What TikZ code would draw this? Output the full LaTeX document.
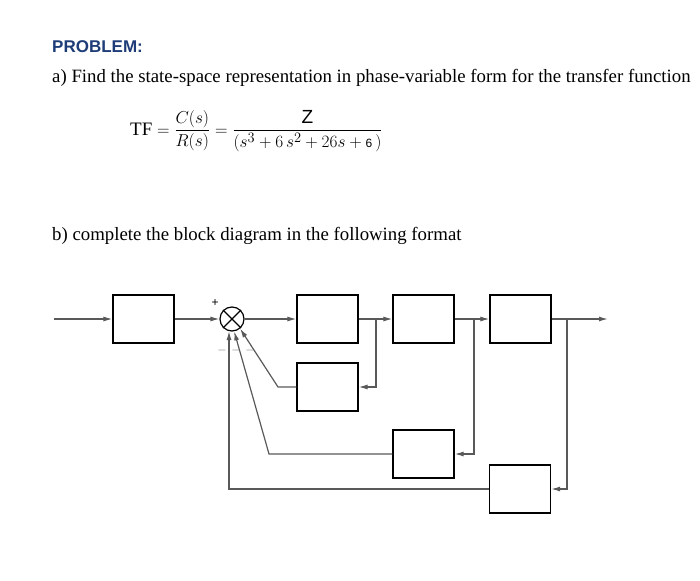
\documentclass[tikz,border=0pt]{standalone}
\usepackage{amsmath}
\usepackage{fontspec}
\setmainfont{Liberation Serif}
\setsansfont{Liberation Sans}
\usetikzlibrary{arrows.meta}
\definecolor{probblue}{RGB}{30,60,120}

\tikzset{
  blk/.style={draw, line width=1.3pt, minimum width=61pt, minimum height=48pt, inner sep=0pt},
  sig/.style={draw=black!65, line width=1.2pt, -{Latex[length=9pt,width=5pt]}},
  txt/.style={anchor=west, inner sep=0pt, font=\fontsize{18.8}{22}\selectfont}
}

\begin{document}
\begin{tikzpicture}[x=1pt,y=-1pt]
\useasboundingbox (0,0) rectangle (700,580);

% texts
\node[txt, font=\sffamily\bfseries\fontsize{17}{20}\selectfont, text=probblue] (title) at (52,47) {PROBLEM:};
\node[txt] (parta) at (52,78) {a) Find the state-space representation in phase-variable form for the transfer function};
\node[anchor=west, inner sep=0pt, font=\fontsize{19}{22}\selectfont] (tf) at (130,131)
  {TF $=\dfrac{C(s)}{R(s)}=\dfrac{\textsf{Z}}{(s^3+6\,s^2+26s+\textsf{\large 6}\,)}$};
\node[txt] (partb) at (52,236) {b) complete the block diagram in the following format};

% forward path
\coordinate (in) at (54,319);
\node[blk] (g0) at (143.5,319) {};
\node[draw, line width=1.2pt, circle, minimum size=24pt, inner sep=0pt] (sum) at (232,319) {};
\draw[line width=1.2pt] (sum.north west) -- (sum.south east) (sum.north east) -- (sum.south west);
\node[blk] (g1) at (327.5,319) {};
\node[blk] (g2) at (423.5,319) {};
\node[blk] (g3) at (520.5,319) {};
\coordinate (out) at (608,319);

% feedback blocks
\node[blk] (h1) at (327.5,387) {};
\node[blk] (h2) at (423.5,454) {};
\node[blk] (h3) at (520,489) {};

\node[font=\sffamily\large] (plus) at (215,303) {+};
\node[font=\sffamily\large, text=black!60] (minus) at (236,350) {$-\,-\,-$};

\draw[sig] (in) -- (g0);
\draw[sig] (g0) -- (sum);
\draw[sig] (sum) -- (g1);
\draw[sig] (g1) -- (g2);
\draw[sig] (g2) -- (g3);
\draw[sig] (g3) -- (out);

\coordinate (b1) at (376,319);
\coordinate (b2) at (474,319);
\coordinate (b3) at (567,319);
\draw[sig] (b1) |- (h1.east);
\draw[sig] (b2) |- (h2.east);
\draw[sig] (b3) |- (h3.east);

\draw[sig] (h1.west) -- (278,387) -- (sum.-50);
\draw[sig] (h2.west) -- (269,454) -- (sum.-80);
\draw[sig] (h3.west) -- (229,489) -- (229,331);
\end{tikzpicture}
\end{document}
